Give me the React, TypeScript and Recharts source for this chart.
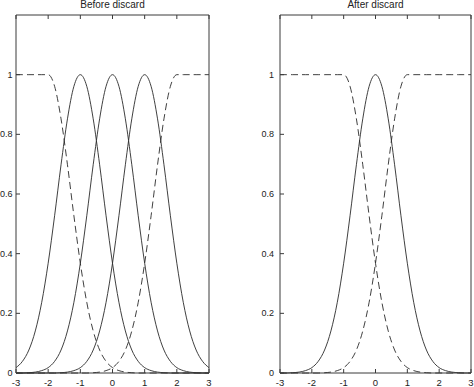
import React from 'react';
import { LineChart, Line, XAxis, YAxis } from 'recharts';

const xValues = [-3, -2.8, -2.6, -2.4, -2.2, -2, -1.8, -1.6, -1.4, -1.2, -1, -0.8, -0.6, -0.4, -0.2, 0, 0.2, 0.4, 0.6, 0.8, 1, 1.2, 1.4, 1.6, 1.8, 2, 2.2, 2.4, 2.6, 2.8, 3];

const beforeGaussLeft = [0.018, 0.039, 0.077, 0.141, 0.237, 0.368, 0.527, 0.698, 0.852, 0.961, 1, 0.961, 0.852, 0.698, 0.527, 0.368, 0.237, 0.141, 0.077, 0.039, 0.018, 0.008, 0.003, 0.001, 0, 0, 0, 0, 0, 0, 0];
const beforeGaussMid = [0, 0, 0.001, 0.003, 0.008, 0.018, 0.039, 0.077, 0.141, 0.237, 0.368, 0.527, 0.698, 0.852, 0.961, 1, 0.961, 0.852, 0.698, 0.527, 0.368, 0.237, 0.141, 0.077, 0.039, 0.018, 0.008, 0.003, 0.001, 0, 0];
const beforeGaussRight = [0, 0, 0, 0, 0, 0, 0, 0.001, 0.003, 0.008, 0.018, 0.039, 0.077, 0.141, 0.237, 0.368, 0.527, 0.698, 0.852, 0.961, 1, 0.961, 0.852, 0.698, 0.527, 0.368, 0.237, 0.141, 0.077, 0.039, 0.018];
const beforeEdgeLeft = [1, 1, 1, 1, 1, 1, 0.961, 0.852, 0.698, 0.527, 0.368, 0.237, 0.141, 0.077, 0.039, 0.018, 0.008, 0.003, 0.001, 0, 0, 0, 0, 0, 0, 0, 0, 0, 0, 0, 0];
const beforeEdgeRight = [0, 0, 0, 0, 0, 0, 0, 0, 0, 0, 0, 0, 0.001, 0.003, 0.008, 0.018, 0.039, 0.077, 0.141, 0.237, 0.368, 0.527, 0.698, 0.852, 0.961, 1, 1, 1, 1, 1, 1];

const afterGauss = [0, 0, 0.001, 0.003, 0.008, 0.018, 0.039, 0.077, 0.141, 0.237, 0.368, 0.527, 0.698, 0.852, 0.961, 1, 0.961, 0.852, 0.698, 0.527, 0.368, 0.237, 0.141, 0.077, 0.039, 0.018, 0.008, 0.003, 0.001, 0, 0];
const afterEdgeLeft = [1, 1, 1, 1, 1, 1, 1, 1, 1, 1, 1, 0.961, 0.852, 0.698, 0.527, 0.368, 0.237, 0.141, 0.077, 0.039, 0.018, 0.008, 0.003, 0.001, 0, 0, 0, 0, 0, 0, 0];
const afterEdgeRight = [0, 0, 0, 0, 0, 0, 0, 0.001, 0.003, 0.008, 0.018, 0.039, 0.077, 0.141, 0.237, 0.368, 0.527, 0.698, 0.852, 0.961, 1, 1, 1, 1, 1, 1, 1, 1, 1, 1, 1];

const xTicks = [-3, -2, -1, 0, 1, 2, 3];
const yTicks = [0, 0.2, 0.4, 0.6, 0.8, 1];

const lineColor = '#2a2a2a';
const axisColor = '#3a3a3a';
const textColor = '#222';
const font = '"Liberation Sans", Arial, sans-serif';

const buildRows = (series: Record<string, number[]>) =>
  xValues.map((x, i) => {
    const row: any = { x };
    Object.keys(series).forEach(k => {
      row[k] = series[k][i];
    });
    return row;
  });

const beforeRows = buildRows({
  gl: beforeGaussLeft,
  gm: beforeGaussMid,
  gr: beforeGaussRight,
  el: beforeEdgeLeft,
  er: beforeEdgeRight,
});

const afterRows = buildRows({
  gm: afterGauss,
  el: afterEdgeLeft,
  er: afterEdgeRight,
});

const BottomTick = (props: any) => {
  const { x, y, payload } = props;
  return (
    <g>
      <line x1={x} y1={y} x2={x} y2={y - 4} stroke={axisColor} />
      <text x={x} y={y + 12.5} textAnchor="middle" fontSize={9.5} fontFamily={font} fill={textColor}>
        {payload.value}
      </text>
    </g>
  );
};

const TopTick = (props: any) => {
  const { x, y } = props;
  return <line x1={x} y1={y} x2={x} y2={y + 4} stroke={axisColor} />;
};

const makeLeftTick = (gap: number) => (props: any) => {
  const { x, y, payload } = props;
  return (
    <g>
      <line x1={x} y1={y} x2={x + 4} y2={y} stroke={axisColor} />
      <text x={x - gap} y={y} dy="0.35em" textAnchor="end" fontSize={9} fontFamily={font} fill={textColor}>
        {payload.value}
      </text>
    </g>
  );
};

const RightTick = (props: any) => {
  const { x, y } = props;
  return <line x1={x} y1={y} x2={x - 4} y2={y} stroke={axisColor} />;
};

interface PanelProps {
  rows: any[];
  solid: string[];
  dashed: string[];
  width: number;
  leftWidth: number;
  rightWidth: number;
  labelGap: number;
}

const Panel: React.FC<PanelProps> = ({ rows, solid, dashed, width, leftWidth, rightWidth, labelGap }) => {
  const LeftTick = makeLeftTick(labelGap);
  return (
    <LineChart width={width} height={387} data={rows} margin={{ top: 0, right: 0, bottom: 0, left: 0 }}>
      <XAxis
        dataKey="x"
        type="number"
        domain={[-3, 3]}
        ticks={xTicks}
        interval={0}
        height={14}
        tickSize={0}
        tickMargin={0}
        tickLine={false}
        axisLine={{ stroke: axisColor }}
        tick={<BottomTick />}
      />
      <XAxis
        xAxisId="top"
        orientation="top"
        dataKey="x"
        type="number"
        domain={[-3, 3]}
        ticks={xTicks}
        interval={0}
        height={15}
        tickSize={0}
        tickMargin={0}
        tickLine={false}
        axisLine={{ stroke: axisColor }}
        tick={<TopTick />}
      />
      <YAxis
        type="number"
        domain={[0, 1.2]}
        ticks={yTicks}
        interval={0}
        width={leftWidth}
        tickSize={0}
        tickMargin={0}
        tickLine={false}
        axisLine={{ stroke: axisColor }}
        tick={<LeftTick />}
      />
      <YAxis
        yAxisId="right"
        orientation="right"
        type="number"
        domain={[0, 1.2]}
        ticks={yTicks}
        interval={0}
        width={rightWidth}
        tickSize={0}
        tickMargin={0}
        tickLine={false}
        axisLine={{ stroke: axisColor }}
        tick={<RightTick />}
      />
      {dashed.map(k => (
        <Line
          key={k}
          dataKey={k}
          type="monotone"
          stroke={lineColor}
          strokeWidth={0.9}
          strokeDasharray="7 4"
          dot={false}
          isAnimationActive={false}
        />
      ))}
      {solid.map(k => (
        <Line
          key={k}
          dataKey={k}
          type="monotone"
          stroke={lineColor}
          strokeWidth={0.9}
          dot={false}
          isAnimationActive={false}
        />
      ))}
    </LineChart>
  );
};

const titleStyle: React.CSSProperties = {
  position: 'absolute',
  top: 0,
  fontFamily: font,
  fontSize: 10,
  lineHeight: '10px',
  textAlign: 'center',
  color: textColor,
};

export default function App() {
  return (
    <div style={{ position: 'absolute', left: 0, top: 0, width: 474, height: 387, background: '#fff', overflow: 'hidden' }}>
      <div style={{ position: 'absolute', left: 0, top: 0 }}>
        <Panel rows={beforeRows} solid={['gl', 'gm', 'gr']} dashed={['el', 'er']} width={220} leftWidth={16} rightWidth={11} labelGap={3.5} />
      </div>
      <div style={{ position: 'absolute', left: 234, top: 0 }}>
        <Panel rows={afterRows} solid={['gm']} dashed={['el', 'er']} width={240} leftWidth={46} rightWidth={3} labelGap={6} />
      </div>
      <div style={{ ...titleStyle, left: 16, width: 193 }}>Before discard</div>
      <div style={{ ...titleStyle, left: 280, width: 191 }}>After discard</div>
    </div>
  );
}
